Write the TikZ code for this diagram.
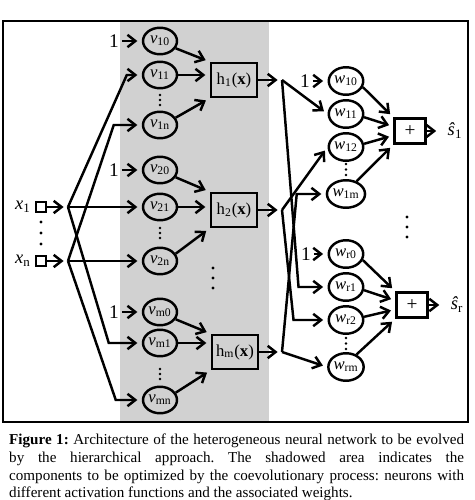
\documentclass[tikz,border=0pt]{standalone}
\usepackage{fontspec}
\setmainfont{Liberation Serif}
\usetikzlibrary{shapes.geometric,arrows.meta}

\begin{document}
\begin{tikzpicture}[x=0.02cm,y=-0.02cm,line width=1.4pt,
  >={Straight Barb[length=4.5pt,width=7pt]},
  link/.style={->,shorten >=2.5pt},
  vneuron/.style={draw,ellipse,minimum width=0.68cm,minimum height=0.53cm,inner sep=0pt,font=\fontsize{9.5}{10}\selectfont},
  wneuron/.style={draw,ellipse,minimum width=0.69cm,minimum height=0.55cm,inner sep=0pt,font=\fontsize{9.5}{10}\selectfont},
  hbox/.style={draw,minimum width=0.92cm,minimum height=0.68cm,inner sep=0pt,font=\fontsize{9.5}{10}\selectfont},
  sumbox/.style={draw,minimum width=0.62cm,minimum height=0.5cm,inner sep=0pt,font=\fontsize{11}{11}\selectfont},
  inbox/.style={draw,line width=1pt,minimum size=0.2cm,inner sep=0pt},
  bias/.style={inner sep=1pt,font=\fontsize{11}{12}\selectfont}]
\useasboundingbox (0,0) rectangle (474,500);
% shadowed area and frame
\fill[black!18] (120,21) rectangle (269,422);
\draw[line width=1.6pt] (3,21) rectangle (468,422);

% inputs
\node[inbox] (sq1) at (41,207) {};
\node[inbox] (sqn) at (41,261) {};
\node[font=\fontsize{10.5}{12}\selectfont] (lx1) at (23,207) {\textit{x}\textsubscript{1}};
\node[font=\fontsize{10.5}{12}\selectfont] (lxn) at (23,261) {\textit{x}\textsubscript{n}};
\coordinate (cx1) at (68,207);
\coordinate (cxn) at (68,261);
\foreach \y in {222,233,244} \fill (41,\y) circle (0.9pt);

% hidden neurons
\node[bias] (one10) at (114,41) {1};
\node[bias] (one20) at (114,170) {1};
\node[bias] (onem0) at (114,312) {1};
\node[vneuron] (v10) at (160,41) {\textit{v}\textsubscript{10}};
\node[vneuron] (v11) at (160,75) {\textit{v}\textsubscript{11}};
\node[vneuron] (v1n) at (160,125) {\textit{v}\textsubscript{1n}};
\node[vneuron] (v20) at (160,170) {\textit{v}\textsubscript{20}};
\node[vneuron] (v21) at (160,207) {\textit{v}\textsubscript{21}};
\node[vneuron] (v2n) at (160,261) {\textit{v}\textsubscript{2n}};
\node[vneuron] (vm0) at (160,312) {\textit{v}\textsubscript{m0}};
\node[vneuron] (vm1) at (160,343) {\textit{v}\textsubscript{m1}};
\node[vneuron] (vmn) at (160,400) {\textit{v}\textsubscript{mn}};
\foreach \y in {95,100,105} \fill (160,\y) circle (0.8pt);
\foreach \y in {228,233,238} \fill (160,\y) circle (0.8pt);
\foreach \y in {369,374,379} \fill (160,\y) circle (0.8pt);

\node[hbox] (h1) at (234,80) {h\textsubscript{1}(\textbf{x})};
\node[hbox] (h2) at (234,210) {h\textsubscript{2}(\textbf{x})};
\node[hbox] (hm) at (235,352) {h\textsubscript{m}(\textbf{x})};
\foreach \y in {268,278,288} \fill (213,\y) circle (0.9pt);

% output weights
\node[bias] (onew1) at (305,81) {1};
\node[bias] (onewr) at (306,254) {1};
\node[wneuron] (w10) at (346,81) {\textit{w}\textsubscript{10}};
\node[wneuron] (w11) at (346,114) {\textit{w}\textsubscript{11}};
\node[wneuron] (w12) at (346,147) {\textit{w}\textsubscript{12}};
\node[wneuron] (w1m) at (346,194) {\textit{w}\textsubscript{1m}};
\node[wneuron] (wr0) at (346,254) {\textit{w}\textsubscript{r0}};
\node[wneuron] (wr1) at (346,287) {\textit{w}\textsubscript{r1}};
\node[wneuron] (wr2) at (346,320) {\textit{w}\textsubscript{r2}};
\node[wneuron] (wrm) at (346,367) {\textit{w}\textsubscript{rm}};
\foreach \y in {164,169.5,175} \fill (346,\y) circle (0.8pt);
\foreach \y in {338,343.5,349} \fill (346,\y) circle (0.8pt);

\node[sumbox] (p1) at (410,131) {+};
\node[sumbox] (pr) at (412,305) {+};
\node[font=\fontsize{10.5}{12}\selectfont] (s1) at (455,131) {\textit{ŝ}\textsubscript{1}};
\node[font=\fontsize{10.5}{12}\selectfont] (sr) at (457,305) {\textit{ŝ}\textsubscript{r}};
\foreach \y in {217,227,237} \fill (407,\y) circle (0.9pt);

% connections from inputs
\draw[link] (sq1) -- (cx1);
\draw[link] (sqn) -- (cxn);
\draw[link] (one10) -- (v10);
\draw[link] (one20) -- (v20);
\draw[link] (onem0) -- (vm0);
\draw[link] (cx1) -- ([xshift=-0.3cm]v11.west) -- (v11.west);
\draw[link] (cxn) -- ([xshift=-0.56cm]v1n.west) -- (v1n.west);
\draw[link] (cx1) -- (v21);
\draw[link] (cxn) -- (v2n);
\draw[link] (cx1) -- ([xshift=-0.66cm]vm1.west) -- (vm1.west);
\draw[link] (cxn) -- ([xshift=-0.52cm]vmn.west) -- (vmn.west);

% neurons to activation functions
\draw[link] (v10.-25) -- (h1.north west);
\draw[link] (v11) -- (v11 -| h1.west);
\draw[link] (v1n.25) -- (h1.south west);
\draw[link] (v20.-25) -- (h2.north west);
\draw[link] (v21) -- (v21 -| h2.west);
\draw[link] (v2n.25) -- (h2.south west);
\draw[link] (vm0.-25) -- (hm.north west);
\draw[link] (vm1) -- (vm1 -| hm.west);
\draw[link] (vmn.25) -- (hm.south west);

% activation functions to output weights
\coordinate (c1) at (282,80);
\coordinate (c2) at (282,210);
\coordinate (cm) at (282,352);
\draw[link] (h1) -- (c1);
\draw[link] (h2) -- (c2);
\draw[link] (hm) -- (cm);
\draw[link] (onew1) -- (w10);
\draw[link] (onewr) -- (wr0);
\draw[link] (c1) -- (w11.west);
\draw[link] (c1) -- ([xshift=-0.58cm]wr1.west) -- (wr1.west);
\draw[link] (c2) -- (w12.west);
\draw[link] (c2) -- ([xshift=-0.68cm]wr2.west) -- (wr2.west);
\draw[link] (cm) -- ([xshift=-0.58cm]w1m.west) -- (w1m.west);
\draw[link] (cm) -- (wrm.west);

% weights to outputs
\draw[link] (w10.-20) -- (p1.north west);
\draw[link] (w11.-10) -- (p1.165);
\draw[link] (w12.10) -- (p1.195);
\draw[link] (w1m.50) -- (p1.south west);
\draw[link] (wr0.-20) -- (pr.north west);
\draw[link] (wr1.-10) -- (pr.165);
\draw[link] (wr2.10) -- (pr.195);
\draw[link] (wrm.50) -- (pr.south west);
\draw[link] (p1) -- (s1);
\draw[link] (pr) -- (sr);

% caption
\node[anchor=north west,text width=9.1cm,align=justify,inner sep=0pt,
  font=\fontsize{8.6}{10}\selectfont\frenchspacing] (cap) at (8,433)
  {\textbf{Figure 1:} Architecture of the heterogeneous neural network to be evolved\linebreak
   by the hierarchical approach. The shadowed area indicates the\linebreak
   components to be optimized by the coevolutionary process: neurons with\linebreak
   different activation functions and the associated weights.};
\end{tikzpicture}
\end{document}
